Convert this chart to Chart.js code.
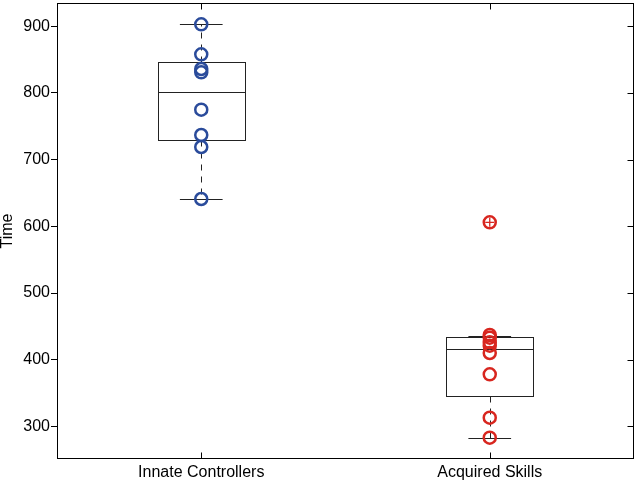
<!DOCTYPE html>
<html>
<head>
<meta charset="utf-8">
<script src="https://cdn.jsdelivr.net/npm/chart.js@4.4.0/dist/chart.umd.min.js"></script>
<style>
html,body{margin:0;padding:0;background:#fff;}
#wrap{width:639px;height:483px;}
</style>
</head>
<body>
<div id="wrap"><canvas id="c" width="639" height="483"></canvas></div>
<script>
const categories = ["Innate Controllers", "Acquired Skills"];
const innateTimes = [903, 858, 836, 831, 775, 737, 719, 641];
const acquiredTimes = [606, 437, 433, 426, 421, 410, 378, 313, 283];
const acquiredOutliers = [606];
const boxQ1 = [729, 346];
const boxMedian = [802, 416];
const boxQ3 = [847, 434];
const whiskerLow = [641, 283];
const whiskerHigh = [903, 436];
const yTicks = [300, 400, 500, 600, 700, 800, 900];

const BLUE = '#2a4b9b';
const RED = '#d8261f';
const FONT = "'Liberation Sans', Arial, Helvetica, sans-serif";

const boxPlugin = {
  id: 'boxes',
  beforeDatasetsDraw(chart) {
    const ctx = chart.ctx;
    const xs = chart.scales.x, ys = chart.scales.y;
    const halfBox = 0.151, halfCap = 0.074;
    ctx.save();
    for (let i = 0; i < categories.length; i++) {
      const cx = Math.round(xs.getPixelForValue(i + 1)) + 0.5;
      const bl = Math.round(xs.getPixelForValue(i + 1 - halfBox)) + 0.5, br = Math.round(xs.getPixelForValue(i + 1 + halfBox)) + 0.5;
      const cl = xs.getPixelForValue(i + 1 - halfCap), cr = xs.getPixelForValue(i + 1 + halfCap);
      const yq1 = Math.round(ys.getPixelForValue(boxQ1[i])) + 0.5, yq3 = Math.round(ys.getPixelForValue(boxQ3[i])) + 0.5;
      const ym = Math.round(ys.getPixelForValue(boxMedian[i])) + 0.5;
      const ylo = Math.round(ys.getPixelForValue(whiskerLow[i])) + 0.5, yhi = Math.round(ys.getPixelForValue(whiskerHigh[i])) + 0.5;
      ctx.strokeStyle = '#222';
      ctx.lineWidth = 1;
      ctx.setLineDash([6, 6]);
      ctx.beginPath();
      ctx.moveTo(cx, yq3); ctx.lineTo(cx, yhi);
      ctx.moveTo(cx, yq1); ctx.lineTo(cx, ylo);
      ctx.stroke();
      ctx.setLineDash([]);
      ctx.beginPath();
      ctx.moveTo(cl, yhi); ctx.lineTo(cr, yhi);
      ctx.moveTo(cl, ylo); ctx.lineTo(cr, ylo);
      ctx.stroke();
      ctx.strokeRect(bl, yq3, br - bl, yq1 - yq3);
      ctx.beginPath();
      ctx.moveTo(bl, ym); ctx.lineTo(br, ym);
      ctx.stroke();
    }
    ctx.restore();
  },
  afterDraw(chart) {
    const ctx = chart.ctx;
    const a = chart.chartArea;
    const xs = chart.scales.x, ys = chart.scales.y;
    ctx.save();
    ctx.strokeStyle = '#000';
    ctx.lineWidth = 1;
    const L = Math.round(a.left) + 0.5, R = Math.round(a.right) - 0.5, T = Math.round(a.top) + 0.5, B = Math.round(a.bottom) - 0.5;
    ctx.strokeRect(L, T, R - L, B - T);
    ctx.beginPath();
    yTicks.forEach(v => {
      const y = Math.round(ys.getPixelForValue(v)) + 0.5;
      ctx.moveTo(R, y); ctx.lineTo(R - 6, y);
    });
    for (let i = 0; i < categories.length; i++) {
      const x = Math.round(xs.getPixelForValue(i + 1)) + 0.5;
      ctx.moveTo(x, B); ctx.lineTo(x, B - 6);
      ctx.moveTo(x, T); ctx.lineTo(x, T + 6);
    }
    ctx.stroke();
    ctx.restore();
  }
};

new Chart(document.getElementById('c'), {
  type: 'scatter',
  data: {
    datasets: [
      {
        data: innateTimes.map(v => ({x: 1, y: v})),
        pointStyle: 'circle', pointRadius: 6, pointHoverRadius: 6,
        borderColor: BLUE, backgroundColor: 'rgba(0,0,0,0)', borderWidth: 2.5
      },
      {
        data: acquiredTimes.map(v => ({x: 2, y: v})),
        pointStyle: 'circle', pointRadius: 6, pointHoverRadius: 6,
        borderColor: RED, backgroundColor: 'rgba(0,0,0,0)', borderWidth: 2.5
      },
      {
        data: acquiredOutliers.map(v => ({x: 2, y: v})),
        pointStyle: 'cross', pointRadius: 4.5, pointHoverRadius: 4.5,
        borderColor: RED, backgroundColor: RED, borderWidth: 1.3
      }
    ]
  },
  options: {
    responsive: false,
    animation: false,
    events: [],
    layout: { autoPadding: false, padding: { left: 0, right: 5, top: 3, bottom: 0 } },
    plugins: { legend: { display: false }, tooltip: { enabled: false } },
    scales: {
      x: {
        type: 'linear', min: 0.5, max: 2.5,
        afterBuildTicks: s => { s.ticks = categories.map((c, i) => ({ value: i + 1 })); },
        afterFit: s => { s.height = 24; s.paddingLeft = 0; s.paddingRight = 0; s.paddingTop = 0; s.paddingBottom = 0; },
        grid: { display: false, drawTicks: false },
        border: { display: false },
        ticks: {
          autoSkip: false, maxRotation: 0, padding: 4,
          color: '#000', font: { family: FONT, size: 16 },
          callback: v => categories[v - 1]
        }
      },
      y: {
        min: 251, max: 935,
        afterBuildTicks: s => { s.ticks = yTicks.map(v => ({ value: v })); },
        afterFit: s => { s.width = 57; s.paddingLeft = 0; s.paddingRight = 0; s.paddingTop = 0; s.paddingBottom = 0; },
        grid: { display: true, drawOnChartArea: false, drawTicks: true, tickLength: 6, color: '#000', lineWidth: 1 },
        border: { display: false },
        ticks: { padding: 1, color: '#000', font: { family: FONT, size: 16 } },
        title: {
          display: true, text: 'Time', color: '#000',
          font: { family: FONT, size: 16, lineHeight: 1 },
          padding: { top: 0, bottom: 0 }
        }
      }
    }
  },
  plugins: [boxPlugin]
});
</script>
</body>
</html>
